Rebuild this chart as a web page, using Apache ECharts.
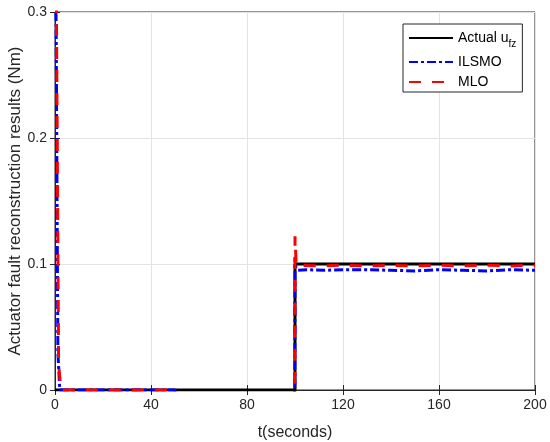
<!DOCTYPE html>
<html lang="en">
<head>
    <meta charset="UTF-8">
    <title>Actuator fault reconstruction</title>
    <style>
        html, body { margin: 0; padding: 0; background: white; }
        #fig { width: 550px; height: 442px; }
    </style>
    <script src="https://cdn.jsdelivr.net/npm/echarts@6/dist/echarts.min.js"></script>
</head>
<body>
    <div id="fig"></div>
    <script>
        // 数据
        const actualT = [0, 100, 100, 200];
        const actualY = [0, 0, 0.1, 0.1];

        const ilsmoT = [0, 0.5, 1.2, 2, 50, 50.1, 99.9, 100, 100.4, 101, 105, 112, 120, 130, 140, 150, 160, 170, 180, 190, 200];
        const ilsmoY = [0.4, 0.28, 0.03, 0, 0, -0.006, -0.006, 0.105, 0.097, 0.095, 0.0955, 0.095, 0.0955, 0.0955, 0.095, 0.0945, 0.0955, 0.095, 0.0945, 0.0955, 0.095];

        const mloT = [0, 0.6, 1.5, 2.5, 50, 50.1, 99.9, 100, 100.5, 101, 110, 120, 130, 140, 150, 160, 170, 180, 190, 200];
        const mloY = [0.4, 0.3, 0.02, 0, 0, -0.006, -0.006, 0.122, 0.099, 0.0985, 0.0985, 0.099, 0.0985, 0.099, 0.0985, 0.099, 0.0985, 0.099, 0.0985, 0.099];

        const xTicks = [0, 40, 80, 120, 160, 200];
        const yTicks = [0, 0.1, 0.2, 0.3];

        function pairs(t, y) {
            return t.map((v, i) => [v, y[i]]);
        }

        const fig = echarts.init(document.getElementById('fig'), null, {renderer: 'canvas'});
        const txt = '#262626';
        const font = 'Liberation Sans, Arial, sans-serif';

        const option = {
            animation: false,
            grid: {left: 55, right: 15, top: 12, bottom: 52, show: true, borderColor: txt, borderWidth: 1,
                outerBoundsMode: 'none', containLabel: false},
            legend: {
                orient: 'vertical', left: 403, top: 24,
                backgroundColor: '#fff', borderColor: txt, borderWidth: 1,
                padding: [7, 6, 3, 5], itemGap: 6, itemWidth: 44, itemHeight: 16,
                itemStyle: {opacity: 0},
                textStyle: {
                    fontFamily: font, fontSize: 14, color: '#000',
                    rich: {
                        n: {fontFamily: font, fontSize: 14, color: '#000'},
                        s: {fontFamily: font, fontSize: 10, color: '#000', padding: [12, 0, 0, 0]}
                    }
                },
                formatter: name => name === 'Actual' ? '{n|Actual u}{s|fz}' : '{n|' + name + '}',
                data: ['Actual', 'ILSMO', 'MLO']
            },
            xAxis: [{
                type: 'value', min: 0, max: 200, interval: 40,
                name: 't(seconds)', nameLocation: 'middle', nameGap: 35, nameMoveOverlap: false,
                nameTextStyle: {fontFamily: font, fontSize: 16, color: txt},
                axisLine: {onZero: false, lineStyle: {color: txt}},
                axisTick: {inside: true, length: 5, lineStyle: {color: txt}},
                axisLabel: {fontFamily: font, fontSize: 14, color: txt, margin: 8,
                    formatter: v => xTicks.includes(v) ? String(v) : ''},
                splitLine: {show: true, lineStyle: {color: '#e3e3e3'}}
            }, {
                type: 'value', position: 'top', min: 0, max: 200, interval: 40,
                axisLine: {show: false}, axisLabel: {show: false}, splitLine: {show: false},
                axisTick: {inside: true, length: 5, lineStyle: {color: txt}}
            }],
            yAxis: [{
                type: 'value', min: 0, max: 0.3, interval: 0.1,
                name: 'Actuator fault reconstruction results (Nm)', nameLocation: 'middle', nameGap: 31,
                nameMoveOverlap: false,
                nameTextStyle: {fontFamily: font, fontSize: 17, color: txt},
                axisLine: {onZero: false, lineStyle: {color: txt}},
                axisTick: {inside: true, length: 5, lineStyle: {color: txt}},
                axisLabel: {fontFamily: font, fontSize: 14, color: txt, margin: 8,
                    formatter: v => {
                        const k = yTicks.find(y => Math.abs(y - v) < 1e-9);
                        return k === undefined ? '' : (k === 0 ? '0' : k.toFixed(1));
                    }},
                splitLine: {show: true, lineStyle: {color: '#e3e3e3'}}
            }, {
                type: 'value', position: 'right', min: 0, max: 0.3, interval: 0.1,
                axisLine: {show: false}, axisLabel: {show: false}, splitLine: {show: false},
                axisTick: {inside: true, length: 5, lineStyle: {color: txt}}
            }],
            series: [{
                name: 'Actual', type: 'line', showSymbol: false, symbol: 'none', clip: true,
                data: pairs(actualT, actualY),
                lineStyle: {color: '#000', width: 3},
                itemStyle: {color: '#000'}
            }, {
                name: 'ILSMO', type: 'line', showSymbol: false, symbol: 'none', clip: true,
                data: pairs(ilsmoT, ilsmoY),
                lineStyle: {color: '#0000ff', width: 3, type: [9, 3, 3, 3]},
                itemStyle: {color: '#0000ff'}
            }, {
                name: 'MLO', type: 'line', showSymbol: false, symbol: 'none', clip: true,
                data: pairs(mloT, mloY),
                lineStyle: {color: '#ff0000', width: 3, type: [12, 11]},
                itemStyle: {color: '#ff0000'}
            }]
        };
        fig.setOption(option);
    </script>
</body>
</html>
